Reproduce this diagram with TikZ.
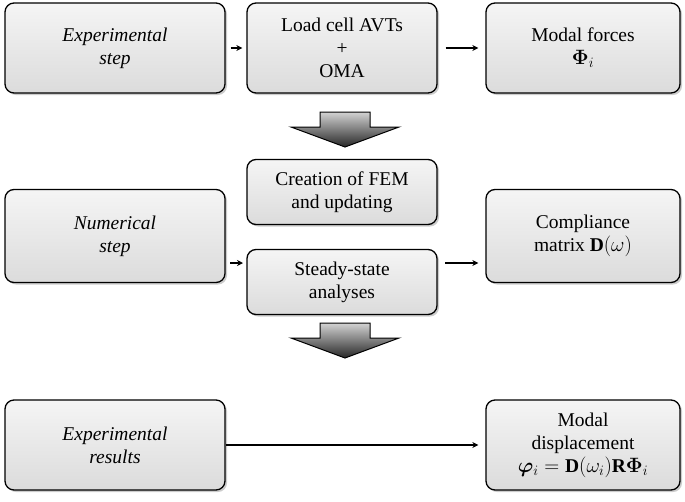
\documentclass[tikz,border=0pt]{standalone}
\usepackage{fontspec}
\setmainfont{Liberation Serif}
\usepackage{amsmath,bm}
\usetikzlibrary{shadows,arrows.meta}
\begin{document}
\begin{tikzpicture}[x=1pt,y=-1pt,
 box/.style={draw=black,line width=1.3pt,rounded corners=9pt,top color=gray!8,bottom color=gray!28,drop shadow={shadow xshift=2pt,shadow yshift=-2pt,opacity=0.4},align=center,font=\fontsize{19.5}{23}\selectfont},
 arr/.style={-{Stealth[length=6pt,width=6pt]},line width=1.2pt},
 big/.style={draw=black,line width=1pt,top color=gray!35,bottom color=black!85}]
\useasboundingbox (0,0) rectangle (685,501);
\node[box,minimum width=220,minimum height=90] (e1) at (115,48) {\itshape Experimental\\\itshape step};
\node[box,minimum width=190,minimum height=90] (l) at (342,48) {Load cell AVTs\\+\\OMA};
\node[box,minimum width=194,minimum height=90] (m) at (583,48) {Modal forces\\$\bm{\Phi}_i$};
\node[box,minimum width=190,minimum height=65] (c) at (342,192) {Creation of FEM\\and updating};
\node[box,minimum width=190,minimum height=65] (s) at (342,282) {Steady-state\\analyses};
\node[box,minimum width=220,minimum height=93] (n) at (115,236) {\itshape Numerical\\\itshape step};
\node[box,minimum width=194,minimum height=93] (cm) at (583,236) {Compliance\\matrix $\mathbf{D}(\omega)$};
\node[box,minimum width=220,minimum height=90] (r) at (115,445) {\itshape Experimental\\\itshape results};
\node[box,minimum width=194,minimum height=90] (d) at (583,445) {Modal\\displacement\\$\bm{\varphi}_i=\mathbf{D}(\omega_i)\mathbf{R}\bm{\Phi}_i$};
\draw[arr] ([xshift=5pt]e1.east) -- ([xshift=-4pt]l.west);
\draw[arr] ([xshift=8pt]l.east) -- ([xshift=-7pt]m.west);
\coordinate (a1) at (230,263); \coordinate (a2) at (243,263);
\draw[arr] (a1) -- (a2);
\coordinate (b1) at (445,263);
\draw[arr] (b1) -- ([xshift=-7pt]cm.west|-b1);
\draw[arr] (r) -- ([xshift=-7pt]d.west);
\path[big] (320,112) -- (370,112) -- (370,127) -- (399,127) -- (345,147) -- (291,127) -- (320,127) -- cycle;
\path[big] (320,323) -- (370,323) -- (370,338) -- (399,338) -- (345,358) -- (291,338) -- (320,338) -- cycle;
\end{tikzpicture}
\end{document}
